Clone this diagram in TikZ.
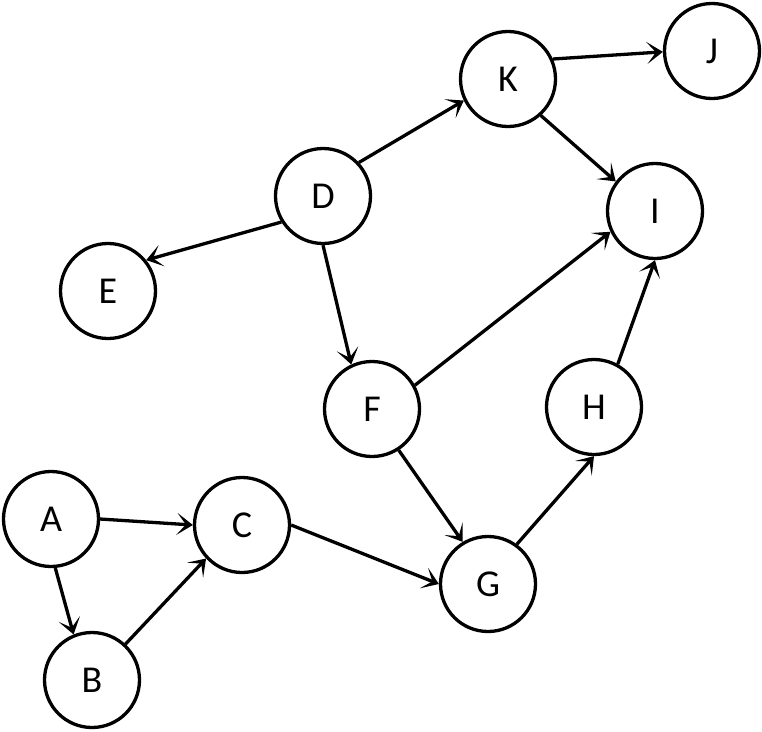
\documentclass[tikz,border=0pt]{standalone}
\usepackage{fontspec}
\setmainfont{Carlito}
\usetikzlibrary{arrows.meta}
\tikzstyle{vtx}=[circle,draw,line width=3.3pt,minimum size=95pt,inner sep=0pt,font=\fontsize{38}{40}\selectfont]
\tikzstyle{arc}=[line width=3.3pt,-{Stealth[length=16pt,width=22pt,inset=9pt]}]

\begin{document}
\begin{tikzpicture}[x=1pt,y=-1pt]
\useasboundingbox (0,0) rectangle (762,731);

\node [vtx] (A) at (51, 519) {A};
\node [vtx] (B) at (92, 680) {B};
\node [vtx] (C) at (242, 525) {C};
\node [vtx] (D) at (323, 196) {D};
\node [vtx] (E) at (108, 291) {E};
\node [vtx] (F) at (372, 409) {F};
\node [vtx] (G) at (488, 584) {G};
\node [vtx] (H) at (594, 407) {H};
\node [vtx] (I) at (655, 211) {I};
\node [vtx] (J) at (712, 51) {J};
\node [vtx] (K) at (508, 79) {K};

\draw [arc] (A.0) -- (C.180);
\draw [arc] (A.275) -- (B.112);
\draw [arc] (B.47) -- (C.223);
\draw [arc] (C.0) -- (G.180);
\draw [arc] (D.43) -- (K.206);
\draw [arc] (D.212) -- (E.39);
\draw [arc] (D.270) -- (F.115);
\draw [arc] (K.24) -- (J.181);
\draw [arc] (K.312) -- (I.143);
\draw [arc] (F.29) -- (I.205);
\draw [arc] (F.303) -- (G.121);
\draw [arc] (G.54) -- (H.270);
\draw [arc] (H.61) -- (I.270);

\end{tikzpicture}
\end{document}
